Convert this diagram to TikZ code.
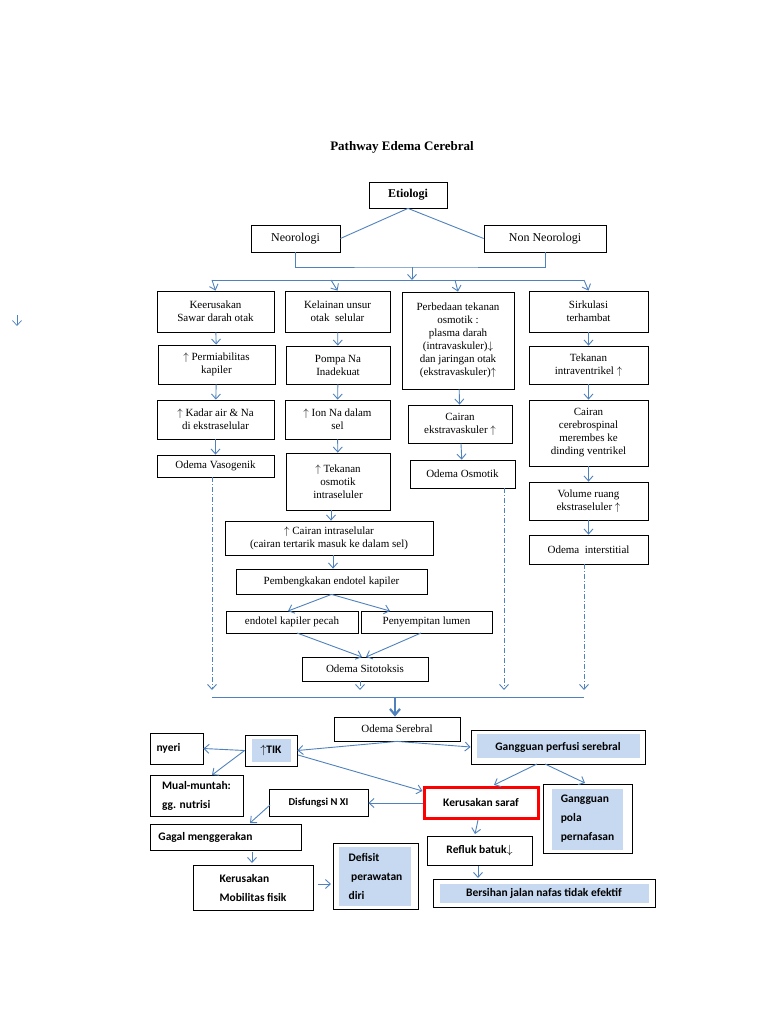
\documentclass[tikz,border=0pt]{standalone}
\usepackage{fontspec}
\setmainfont{Liberation Serif}
\newfontfamily\calfont{Carlito}
\usetikzlibrary{arrows.meta}
\definecolor{ab}{RGB}{79,129,189}
\definecolor{sh}{RGB}{198,217,241}
\tikzset{
 box/.style={draw=black,line width=0.8pt,inner sep=1pt,align=center,font=\fontsize{11}{13}\selectfont},
 arr/.style={draw=ab,line width=0.9pt,-{Straight Barb[length=5pt,width=9pt]}},
 ln/.style={draw=ab,line width=0.9pt},
 dd/.style={arr,dash pattern=on 5pt off 2pt on 1pt off 2pt},
}
\newcommand\bx[7][]{\node[box,#1,minimum width={(#5-#3)*1pt},minimum height={(#6-#4)*1pt}] (#2) at ({(#3+#5)/2},{(#4+#6)/2}) {#7};}
\begin{document}
\begin{tikzpicture}[x=1pt,y=-1pt]
\useasboundingbox (0,0) rectangle (768,1024);
\node[font=\bfseries\fontsize{13}{15}\selectfont] (title) at (402,147) {Pathway Edema Cerebral};
\bx[font=\bfseries\fontsize{12}{14}\selectfont]{eti}{369}{182}{447}{208}{Etiologi}
\bx[font=\fontsize{12}{14}\selectfont]{neo}{251}{225}{340}{252}{Neorologi}
\bx[font=\fontsize{12}{14}\selectfont]{non}{484}{225}{606}{252}{Non Neorologi}
\draw[ln] (eti.south) -- (neo.east);
\draw[ln] (eti.south) -- (non.west);
\coordinate (j1) at (412,267);
\coordinate (j2) at (412,280);
\draw[ln] (neo.south) |- (j1) -| (non.south);
\draw[arr] (j1) -- (j2);
%row1
\bx{a1}{157}{291}{274}{332}{Keerusakan\\Sawar darah otak}
\bx{b1}{285}{291}{390}{332}{Kelainan unsur\\otak\ \ selular}
\bx{c1}{402}{292}{514}{389}{Perbedaan tekanan\\osmotik :\\plasma darah\\(intravaskuler)$\downarrow$\\dan jaringan otak\\(ekstravaskuler)$\uparrow$}
\bx{d1}{529}{291}{648}{332}{Sirkulasi\\terhambat}
\coordinate (h1) at (212,280); \coordinate (h4) at (584,280);
\draw[ln] (h1) -- (h4);
\draw[arr] (h1) -- (a1.north);
\draw[arr] (331,280) -- (b1.north);
\draw[arr] (455,280) -- (c1.north);
\draw[arr] (h4) -- (d1.north);
\bx{a2}{158}{345}{275}{384}{$\uparrow$ Permiabilitas\\kapiler}
\bx{b2}{286}{346}{390}{384}{Pompa Na\\Inadekuat}
\bx{d2}{529}{346}{648}{384}{Tekanan\\intraventrikel $\uparrow$}
\bx{a3}{157}{400}{274}{439}{$\uparrow$ Kadar air \& Na\\di ekstraselular}
\bx{b3}{285}{400}{390}{439}{$\uparrow$ Ion Na dalam\\sel}
\bx{c3}{408}{405}{512}{443}{Cairan\\ekstravaskuler $\uparrow$}
\bx{d3}{529}{400}{648}{466}{Cairan\\cerebrospinal\\merembes ke\\dinding ventrikel}
\bx{a4}{157}{455}{274}{477}{Odema Vasogenik}
\bx{b4}{286}{453}{390}{510}{$\uparrow$ Tekanan\\osmotik\\intraseluler}
\bx{c4}{410}{460}{515}{488}{Odema Osmotik}
\bx{d4}{529}{482}{648}{520}{Volume ruang\\ekstraseluler $\uparrow$}
\bx{d5}{529}{535}{648}{564}{Odema\ \ interstitial}
\bx{b5}{225}{521}{433}{555}{$\uparrow$ Cairan intraselular\\(cairan tertarik masuk ke dalam sel)}
\bx{b6}{236}{569}{427}{594}{Pembengkakan endotel kapiler}
\bx{b7}{226}{611}{358}{633}{endotel kapiler pecah}
\bx{b8}{361}{611}{492}{633}{Penyempitan lumen}
\bx{b9}{302}{657}{428}{681}{Odema Sitotoksis}
\foreach \u/\v in {a1/a2,a2/a3,a3/a4,b1/b2,b2/b3,b3/b4,c1/c3,c3/c4,d1/d2,d2/d3,d3/d4,d4/d5}
  \draw[arr] (\u) -- (\v);
\draw[arr] (b4.south -| 331,0) -- (b5.north -| 331,0);
\draw[arr] (b5.south -| 333,0) -- (b6.north -| 333,0);
\draw[arr] (b6.south) -- (288,611);
\draw[arr] (b6.south) -- (390,611);
\draw[arr] (297,633) -- (362,657);
\draw[arr] (421,633) -- (366,657);
\coordinate (e1) at (212,697); \coordinate (e4) at (584,697);
\draw[dd] (a4.south -| 212,0) -- (212,690);
\draw[dd] (b9.south -| 360,0) -- (360,690);
\draw[dd] (c4.south -| 504,0) -- (504,690);
\draw[dd] (d5.south -| 584,0) -- (584,690);
\draw[ln] (e1) -- (e4);
\bx{os}{334}{717}{460}{741}{Odema Serebral}
\draw[ab,line width=2.2pt,-{Straight Barb[length=6pt,width=10pt]}] (395,697) -- (os.north -| 395,0);
% bottom
\tikzset{box/.append style={font=\calfont\bfseries\fontsize{11.5}{19}\selectfont,align=left}}
\fill[sh] (252,739) rectangle (291,762);
\fill[sh] (477,734) rectangle (640,758);
\fill[sh] (552,789) rectangle (623,850);
\fill[sh] (339,847) rectangle (411,906);
\fill[sh] (440,884) rectangle (649,903);
\bx{ny}{150}{733}{203}{764}{nyeri\hspace{16pt}}
\bx{tik}{245}{735}{297}{766}{$\uparrow$TIK}
\bx{gp}{471}{730}{645}{764}{Gangguan perfusi serebral}
\bx{mu}{150}{775}{243}{816}{Mual-muntah:\\gg. nutrisi}
\bx{dis}{269}{789}{368}{816}{\fontsize{10.5}{12}\selectfont Disfungsi N XI}
\bx[draw=red,line width=3pt]{ks}{424}{787}{538}{818}{Kerusakan saraf}
\bx{gpola}{543}{784}{632}{853}{Gangguan\\pola\\pernafasan}
\bx{gg}{150}{824}{301}{850}{Gagal menggerakan\hspace{40pt}}
\bx{rb}{427}{836}{532}{865}{Refluk batuk$\downarrow$}
\bx{km}{193}{865}{313}{910}{Kerusakan\\Mobilitas fisik}
\bx{def}{333}{843}{418}{909}{Defisit\\\ perawatan\\diri}
\bx{ber}{433}{879}{655}{907}{Bersihan jalan nafas tidak efektif}
\draw[arr] (os.south) -- (tik.east);
\draw[arr] (os.south) -- (gp.west);
\draw[arr] (tik.west) -- (ny.east);
\draw[arr] (tik.west) -- (212,775);
\draw[arr] (298,755) -- (ks.west |- 0,791);
\draw[arr] (537,764) -- (494,785);
\draw[arr] (545,764) -- (585,783);
\draw[arr] (ks.west |- 0,803) -- (dis.east |- 0,803);
\draw[arr] (270,805) -- (250,823);
\draw[arr] (252,852) -- (252,863);
\draw[arr] (478,820) -- (475,834);
\draw[arr] (478,866) -- (478,878);
\draw[arr] (318,884) -- (331,884);
\coordinate (s1) at (17,315); \coordinate (s2) at (17,326);
\draw[arr,line width=0.7pt] (s1) -- (s2);
\end{tikzpicture}
\end{document}
